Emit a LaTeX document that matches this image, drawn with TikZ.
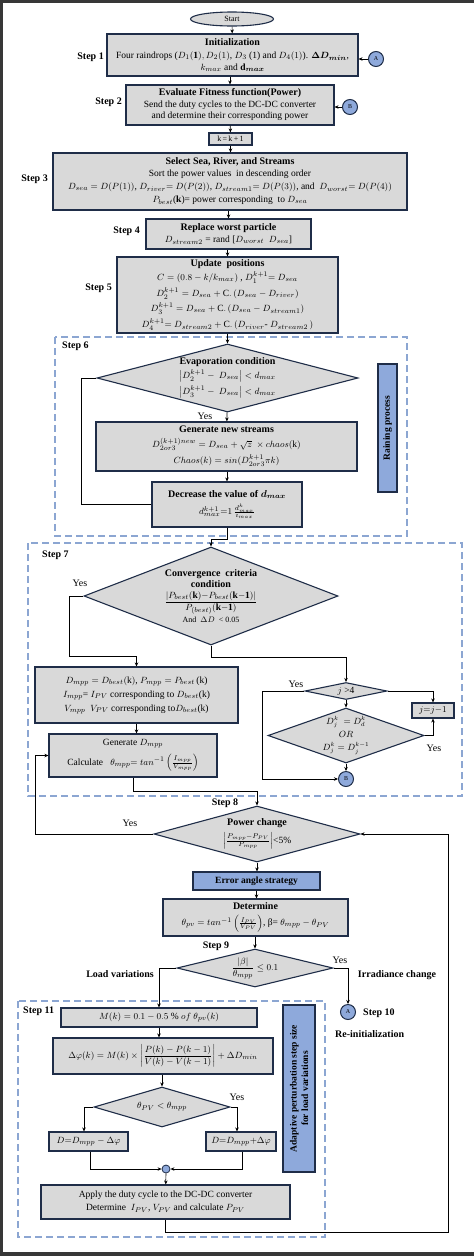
\documentclass[tikz,border=0pt]{standalone}
\usepackage{amsmath,amssymb}
\usepackage{fontspec}
\setmainfont{Liberation Serif}
\usetikzlibrary{shapes.geometric, arrows.meta}

\definecolor{boxgray}{RGB}{217,217,217}
\definecolor{boxline}{RGB}{31,45,72}
\definecolor{procblue}{RGB}{142,169,219}
\definecolor{dashblue}{RGB}{140,166,210}
\definecolor{framegray}{RGB}{55,55,55}

\newcommand{\boxtitle}[1]{{\fontsize{10}{12}\selectfont\bfseries #1}}

\tikzset{
  stepbox/.style = {draw = boxline, fill = boxgray, line width = 1.1pt, inner sep = 1pt, align = center, font = \fontsize{9.5}{11}\selectfont},
  procbox/.style = {draw = boxline, fill = procblue, line width = 1.1pt, inner sep = 1pt, align = center, font = \fontsize{9.5}{11}\selectfont\bfseries},
  decision/.style = {diamond, draw = boxline, fill = boxgray, line width = 1.1pt, inner sep = 0pt},
  dtext/.style = {align = center, inner sep = 0pt, font = \fontsize{9.5}{11}\selectfont},
  connector/.style = {circle, draw = boxline, fill = procblue, line width = 1pt, minimum size = 15pt, inner sep = 0pt, font = \fontsize{6}{6}\selectfont},
  group/.style = {draw = dashblue, dash pattern = on 7pt off 4pt, line width = 1.2pt},
  flow/.style = {draw = black, line width = 0.7pt, -{Stealth[length = 4pt, width = 3.5pt]}},
  plain/.style = {draw = black, line width = 0.7pt},
  steplabel/.style = {inner sep = 0pt, font = \fontsize{10}{12}\selectfont\bfseries},
  yeslabel/.style = {inner sep = 0pt, font = \fontsize{10}{12}\selectfont},
}

\begin{document}
\begin{tikzpicture}[x = 1pt, y = -1pt]
\useasboundingbox (0,0) rectangle (474,1256);
% scan frame
\fill[framegray] (0,0) rectangle (3,1256);
\fill[framegray] (0,0) rectangle (474,3);
\fill[framegray] (0,1252) rectangle (474,1256);

% dashed groups
\draw[group] (55,337) rectangle (407,536);
\draw[group] (28,543) rectangle (462,796);
\draw[group] (18,1001) rectangle (325,1237);

% steps 1-5
\node[ellipse, draw = boxline, fill = boxgray, line width = 1.1pt, minimum width = 83pt, minimum height = 14pt, inner sep = 0pt, font = \fontsize{8}{9}\selectfont] (start) at (232,19) {Start};
\node[stepbox, minimum width = 251pt, minimum height = 42pt] (init) at (232.5,55) {\boxtitle{Initialization}\\[2pt] Four raindrops ($D_1(\mathbf{1}), D_2(1)$, $D_3$ (1) and $D_4(1)$). $\boldsymbol{\Delta D_{min}}$,\\[1pt] $k_{max}$ and $\mathbf{d}_{\boldsymbol{max}}$};
\node[stepbox, minimum width = 208pt, minimum height = 40pt] (fitness) at (230,105) {\boxtitle{Evaluate Fitness function(Power)}\\[1pt] Send the duty cycles to the DC-DC converter\\ and determine their corresponding power};
\node[stepbox, minimum width = 43pt, minimum height = 12pt, inner sep = 0pt, font = \fontsize{8}{9}\selectfont] (counter) at (230.5,139) {k\,=\,k\,+\,1};
\node[stepbox, minimum width = 354pt, minimum height = 57pt] (select) at (230,181.5) {\boxtitle{Select Sea, River, and Streams}\\[1pt] Sort the power values\ \ in descending order\\[2pt] $D_{sea}=D(P(1))$, $D_{river}{=}\ D(P(2))$, $D_{stream1}{=}\ D(P(3))$, and\ \ $D_{worst}{=}\ D(P(4))$\\[2pt] $P_{best}$(\textbf{k})= power corresponding\ \ to $D_{sea}$};
\node[stepbox, minimum width = 165pt, minimum height = 30pt] (replace) at (228.5,234) {\boxtitle{Replace worst particle}\\[1pt] $D_{stream2}$ = rand [$D_{worst}\ \ D_{sea}$]};
\node[stepbox, minimum width = 221pt, minimum height = 76pt] (update) at (227.5,295) {\boxtitle{Update\ \ positions}\\[3pt] $C=(0.8-k/k_{max})$ , $D_1^{k+1}{=}\ D_{sea}$\\[3pt] $D_2^{k+1}=D_{sea}+\mathrm{C}.\,(D_{sea}-D_{river})$\\[3pt] $D_3^{k+1}=D_{sea}+\mathrm{C}.\,(D_{sea}-D_{stream1})$\\[3pt] $D_4^{k+1}{=}\ D_{stream2}+\mathrm{C}.\,(D_{river}\text{-}\ D_{stream2}\,)$};
\node[connector] (connA) at (376,59) {A};
\node[connector] (connB) at (350,107) {B};

% step 6
\node[decision, minimum width = 261pt, minimum height = 68pt] (evap) at (227.5,378) {};
\node[dtext] (evap-t) at (evap) {\boxtitle{Evaporation condition}\\[3pt] $\bigl|D_2^{k+1}-\ D_{sea}\bigr|<d_{max}$\\[3pt] $\bigl|D_3^{k+1}-\ D_{sea}\bigr|<d_{max}$};
\node[stepbox, minimum width = 261pt, minimum height = 49pt] (streams) at (226.5,446.5) {\boxtitle{Generate new streams}\\[4pt] $D_{2or3}^{(k+1)new}=D_{sea}+\sqrt{z}\ \times chaos(\mathrm{k})$\\[3pt] $Chaos(k)=sin(D^{k+1}_{2or3}\pi k)$};
\node[stepbox, minimum width = 150pt, minimum height = 45pt] (decrease) at (227,504.5) {\boxtitle{Decrease the value of $\boldsymbol{d_{max}}$}\\[4pt] $d_{max}^{k+1}{=}1\,\frac{d_{max}^{k}}{i_{max}}$};
\node[procbox, rotate = 90, minimum width = 128pt, minimum height = 19pt] (raining) at (387.5,428) {Raining process};

% step 7
\node[decision, minimum width = 254pt, minimum height = 98pt] (conv) at (211,596) {};
\node[dtext] (conv-t) at (conv) {\boxtitle{Convergence\ \ criteria}\\ \boxtitle{condition}\\[3pt] $\dfrac{|P_{best}(\mathbf{k}){-}P_{best}(\mathbf{k{-}1})|}{P_{(best)}(\mathbf{k{-}1})}$\\[2pt] {\fontsize{8}{9.5}\selectfont And\ \ $\Delta D$\ \ < 0.05}};
\node[stepbox, minimum width = 203pt, minimum height = 56pt] (mpp) at (136.5,695) {$D_{mpp}=D_{best}(\mathrm{k})$,\ $P_{mpp}=P_{best}$\,(k)\\[3pt] $I_{mpp}${=}\ $I_{PV}$ corresponding to $D_{best}$(k)\\[3pt] $V_{mpp}$\ \ $V_{PV}$ corresponding to$D_{best}$(k)};
\node[stepbox, minimum width = 168pt, minimum height = 43pt] (gen) at (133,755.5) {Generate $D_{mpp}$\\[5pt] Calculate\ \ \ $\theta_{mpp}{=}\ tan^{-1}\left(\frac{I_{mpp}}{V_{mpp}}\right)$};
\node[decision, minimum width = 82pt, minimum height = 17pt] (jcheck) at (346,691) {};
\node[dtext] (jcheck-t) at (jcheck) {$j$ >4};
\node[stepbox, minimum width = 42pt, minimum height = 15pt, inner sep = 0pt] (jdec) at (433,710.5) {$j{=}j{-}1$};
\node[decision, minimum width = 156pt, minimum height = 55pt] (dcheck) at (346,735.5) {};
\node[dtext, font = \fontsize{9}{10}\selectfont] (dcheck-t) at (dcheck) {$D_j^k\ =D_d^k$\\[3pt] $OR$\\[3pt] $D_j^k=D_j^{k-1}$};
\node[connector] (connB2) at (346,779) {B};

% step 8 and 9
\node[decision, minimum width = 206pt, minimum height = 56pt] (power) at (257,834) {};
\node[dtext] (power-t) at (power) {\boxtitle{Power change}\\[4pt] $\left|\frac{P_{mpp}-P_{PV}}{P_{mpp}}\right|${<}5\%};
\node[procbox, minimum width = 127pt, minimum height = 18pt] (error) at (256.5,881) {Error angle strategy};
\node[stepbox, minimum width = 185pt, minimum height = 37pt] (determine) at (255.5,917.5) {\boxtitle{Determine}\\[5pt] $\theta_{pv}=tan^{-1}\left(\frac{I_{PV}}{V_{PV}}\right)$, β= $\theta_{mpp}-\theta_{PV}$};
\node[decision, minimum width = 156pt, minimum height = 38pt] (beta) at (255,968) {};
\node[dtext] (beta-t) at (beta) {$\dfrac{|\beta|}{\theta_{mpp}}\leq 0.1$};
\node[connector] (connA2) at (348,1012) {A};

% step 11
\node[stepbox, minimum width = 196pt, minimum height = 19pt] (mk) at (159,1017.5) {$M(k)=0.1-0.5\ \%\ of\ \theta_{pv}(k)$};
\node[stepbox, minimum width = 220pt, minimum height = 36pt] (dphi) at (163,1056) {$\Delta\varphi(k)=M(k)\times\left|\dfrac{P(k)-P(k-1)}{V(k)-V(k-1)}\right|+\Delta D_{min}$};
\node[decision, minimum width = 136pt, minimum height = 40pt] (theta) at (162,1107) {};
\node[dtext] (theta-t) at (theta) {$\theta_{PV}<\theta_{mpp}$};
\node[stepbox, minimum width = 79pt, minimum height = 19pt] (dminus) at (88.5,1141.5) {$D{=}D_{mpp}-\Delta\varphi$};
\node[stepbox, minimum width = 70pt, minimum height = 19pt] (dplus) at (241,1141.5) {$D{=}D_{mpp}{+}\Delta\varphi$};
\node[circle, draw = boxline, fill = procblue, line width = 0.8pt, minimum size = 8pt, inner sep = 0pt] (join) at (166,1169) {};
\node[stepbox, minimum width = 249pt, minimum height = 34pt] (apply) at (165.5,1202) {Apply the duty cycle to the DC-DC converter\\[2pt] Determine\ \ $I_{PV}$, $V_{PV}$ and calculate $P_{PV}$};
\node[procbox, rotate = 90, minimum width = 167pt, minimum height = 32pt, font = \fontsize{9.5}{11.5}\selectfont\bfseries] (adaptive) at (299,1088.5) {Adaptive perturbation step size\\ for load variations};

% labels
\foreach \n/\pos/\anc in {1/{104,57}/east, 2/{122,102}/east, 3/{48,179}/east, 4/{140,231}/east, 5/{112,288}/east, 6/{62,346}/west, 7/{42,555}/west, 8/{225,803}/center, 9/{216,946}/center, 10/{363,1013}/west, 11/{23,1011}/west}
  \node[steplabel, anchor = \anc] (step\n) at (\pos) {Step \n};
\foreach \n/\pos in {1/{205,416}, 2/{80,583}, 3/{296,684}, 4/{434,748}, 5/{130,823}, 6/{340,960}, 7/{237,1097}}
  \node[yeslabel] (yes\n) at (\pos) {Yes};
\node[steplabel] (irradiance) at (397,975) {Irradiance change};
\node[steplabel, anchor = east] (load) at (154,974) {Load variations};
\node[steplabel, anchor = west] (reinit) at (335,1034) {Re-initialization};

% connectors
\draw[flow] (start) -- (init);
\draw[flow] (fitness.north |- init.south) -- (fitness.north);
\draw[flow] (fitness) -- (counter);
\draw[flow] (counter.south) -- (counter.south |- select.north);
\draw[flow] (replace.north |- select.south) -- (replace.north);
\draw[flow] (update.north |- replace.south) -- (update.north);
\draw[flow] (connA) -- (connA -| init.east);
\draw[flow] (connB) -- (connB -| fitness.east);
\draw[flow] (update) -- (evap);
\draw[flow] (evap) -- (streams);
\draw[flow] (decrease.north |- streams.south) -- (decrease.north);
\draw[plain] (evap.west) -- ++(-15,0) |- (decrease.west);
\draw[flow] (decrease.south) -- ++(0,12) -| (conv.north);
\draw[flow] (conv.west) -- ++(-14,0) |- ([yshift = 10pt]mpp.north) -- (mpp.north);
\draw[flow] (conv.south) -- ++(0,12) -| (jcheck.north);
\draw[flow] (jcheck.west) -- ++(-42,0) |- (connB2.west);
\draw[flow] (jcheck.east) -| (jdec.north);
\draw[flow] (jcheck) -- (dcheck);
\draw[flow] (dcheck.east) -| (jdec.south);
\draw[flow] (dcheck) -- (connB2);
\draw[flow] (mpp.south) -- (mpp.south |- gen.north);
\draw[flow] (gen.south) -- ++(0,14) -| (power.north);
\draw[flow] (power.west) -- ++(-118,0) |- (gen.west);
\draw[flow] (power) -- (power |- error.north);
\draw[flow] (error.south) -- (error.south |- determine.north);
\draw[flow] (beta.north |- determine.south) -- (beta.north);
\draw[flow] (beta.east) -| (connA2.north);
\draw[flow] (beta.west) -| (mk.north);
\draw[flow] (mk.south) -- (mk.south |- dphi.north);
\draw[flow] (theta.north |- dphi.south) -- (theta.north);
\draw[flow] (theta.west) -| ([xshift = -4.5pt]dminus.north);
\draw[flow] (theta.east) -| ([xshift = -4pt]dplus.north);
\draw[flow] ([xshift = 1.5pt]dminus.south) |- (join.west);
\draw[flow] ([xshift = 1pt]dplus.south) |- (join.east);
\draw[flow] (join) -- (apply);
\draw[flow] (apply.south) -- ++(0,13) -| ([xshift = 88pt]power.east) -- (power.east);
\end{tikzpicture}
\end{document}
